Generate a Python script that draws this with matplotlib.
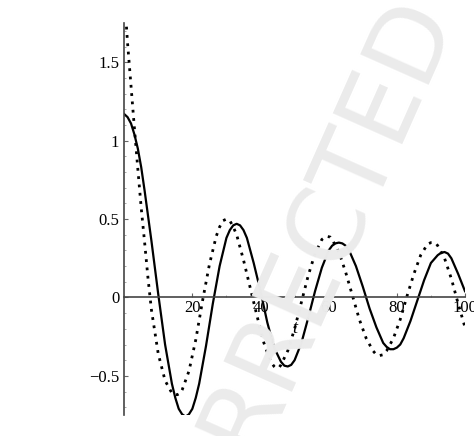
import numpy as np
import matplotlib
matplotlib.use('agg')
import matplotlib.pyplot as plt
from matplotlib.ticker import MultipleLocator

plt.rcParams['font.family'] = ['Liberation Serif', 'DejaVu Serif']

# solid curve
t_solid = [0, 1, 2, 3, 4, 5, 6, 7, 8, 10, 12, 14, 15, 16, 17, 18, 19, 20, 21, 22, 24, 26,
           28, 30, 31, 32, 33, 34, 35, 36, 38, 40, 42, 44, 46, 47, 48, 49, 50, 52, 54, 56,
           58, 60, 61, 62, 63, 64, 65, 66, 68, 70, 72, 74, 76, 77, 78, 79, 80, 81, 82, 84,
           86, 88, 90, 92, 93, 94, 95, 96, 98, 100]
y_solid = [1.17, 1.15, 1.11, 1.04, 0.95, 0.83, 0.68, 0.52, 0.36, 0.02, -0.30, -0.55, -0.64,
           -0.71, -0.745, -0.76, -0.745, -0.71, -0.64, -0.55, -0.31, -0.04, 0.20, 0.38,
           0.43, 0.46, 0.47, 0.46, 0.43, 0.38, 0.22, 0.04, -0.16, -0.32, -0.41, -0.435,
           -0.44, -0.43, -0.40, -0.29, -0.13, 0.04, 0.19, 0.30, 0.33, 0.345, 0.35, 0.345,
           0.33, 0.30, 0.20, 0.07, -0.07, -0.19, -0.29, -0.315, -0.33, -0.33, -0.32, -0.30,
           -0.26, -0.15, -0.02, 0.11, 0.22, 0.27, 0.285, 0.29, 0.28, 0.25, 0.15, 0.04]

# dotted curve
t_dot = [0.5, 1, 2, 3, 4, 5, 6, 7, 8, 10, 12, 14, 15, 15.6, 16.5, 17, 19, 21, 23, 25, 27,
         28, 29, 30, 31, 32, 33, 35, 37, 39, 41, 43, 44, 44.5, 45.5, 46, 48, 50, 52, 54, 56,
         58, 59, 59.5, 60.5, 61, 63, 65, 67, 69, 71, 73, 74, 75, 76, 77, 79, 81, 83, 85,
         87, 89, 90, 90.5, 91.5, 92, 94, 96, 98, 100]
y_dot = [1.78, 1.62, 1.35, 1.08, 0.82, 0.57, 0.35, 0.12, -0.08, -0.36, -0.53, -0.61, -0.62,
         -0.62, -0.61, -0.59, -0.47, -0.27, -0.02, 0.21, 0.39, 0.45, 0.49, 0.50, 0.49, 0.45,
         0.40, 0.24, 0.06, -0.12, -0.29, -0.41, -0.44, -0.45, -0.445, -0.43, -0.34, -0.20,
         -0.03, 0.14, 0.28, 0.37, 0.385, 0.39, 0.385, 0.37, 0.29, 0.16, 0.01, -0.14, -0.26,
         -0.34, -0.365, -0.37, -0.365, -0.34, -0.26, -0.14, 0.01, 0.15, 0.27, 0.34, 0.35,
         0.35, 0.345, 0.33, 0.25, 0.12, -0.04, -0.19]

fig = plt.figure(figsize=(4.74, 4.36), dpi=100)
fig.text(298 / 474, 1 - 296 / 436, 'CORRECTED', rotation=66, fontsize=74, color='#ebebeb',
         ha='center', va='center', family='DejaVu Sans', zorder=0)

ax = fig.add_axes([0.262, 0.048, 0.719, 0.899])
ax.patch.set_alpha(0)
ax.plot(t_solid, y_solid, color='black', lw=1.6, solid_joinstyle='round')
ax.plot(t_dot, y_dot, color='black', lw=2.0, linestyle=(0, (1, 2.0)))

ax.set_xlim(0, 100)
ax.set_ylim(-0.75, 1.75)
ax.spines['left'].set_position(('data', 0))
ax.spines['bottom'].set_position(('data', 0))
ax.spines['right'].set_visible(False)
ax.spines['top'].set_visible(False)
for s in ('left', 'bottom'):
    ax.spines[s].set_color('#444444')
    ax.spines[s].set_linewidth(1.2)

ax.set_xticks([20, 40, 60, 80, 100])
ax.set_yticks([-0.5, 0, 0.5, 1, 1.5])
ax.set_yticklabels(['\u22120.5', '0', '0.5', '1', '1.5'])
ax.xaxis.set_minor_locator(MultipleLocator(10))
ax.yaxis.set_minor_locator(MultipleLocator(0.1))
ax.tick_params(labelsize=12, length=3, direction='in', color='#666666')
ax.tick_params(which='minor', length=1.5, direction='in', color='#999999')
ax.tick_params(axis='x', pad=2)
ax.text(50, -0.2, 't', fontsize=13, style='italic', ha='center', va='center')

fig.savefig('out.png', dpi=100)
